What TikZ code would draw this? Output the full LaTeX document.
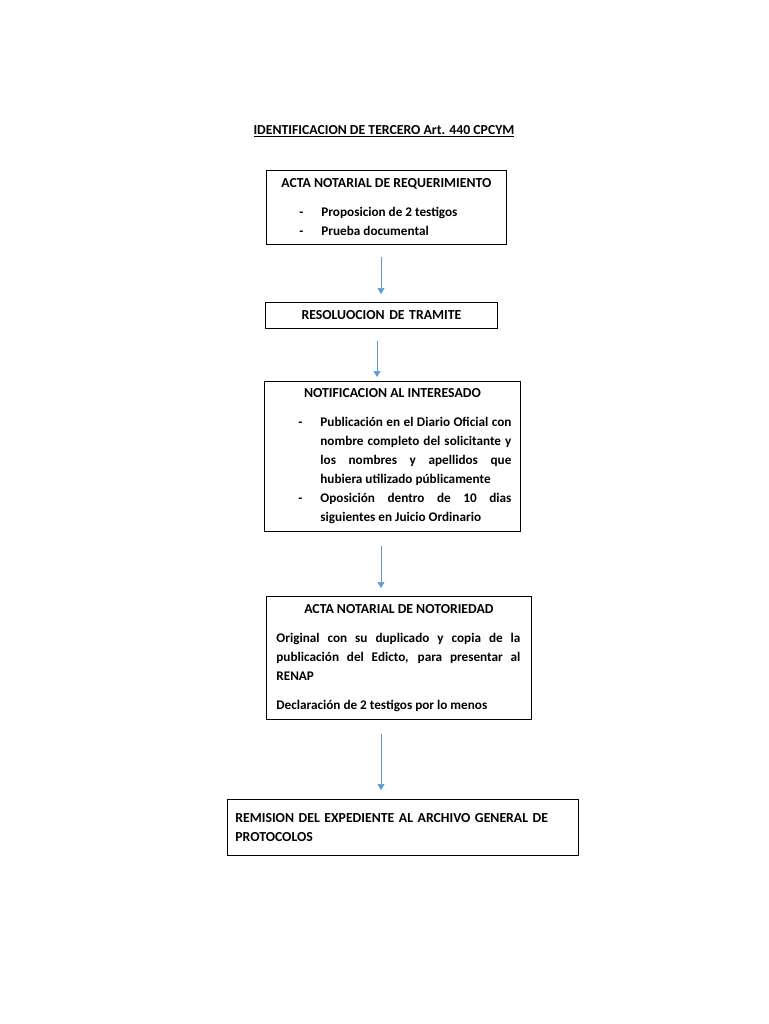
\documentclass[tikz,border=0pt]{standalone}
\usepackage{fontspec}
\setmainfont{Carlito}
\usetikzlibrary{arrows.meta}
\definecolor{flowblue}{HTML}{5B9BD5}
\newcommand{\bul}{\noindent\llap{\makebox[22pt][l]{-}}}
\newcommand{\bodysize}{\fontsize{13.2}{19}\selectfont}
\begin{document}
\begin{tikzpicture}[x=1pt,y=-1pt,
    every node/.style={font=\fontsize{13.75}{19}\selectfont\bfseries},
    stepbox/.style={draw=black,line width=0.8pt,anchor=north west,inner xsep=0pt,inner ysep=0pt,align=justify},
    flow/.style={draw=flowblue,line width=0.6pt,-{Triangle[width=7pt,length=6pt]}}]
    \useasboundingbox (0,0) rectangle (768,1024);
    \coordinate (axis) at (381,0);
    \node (title) at (384,131) {\underline{IDENTIFICACION DE TERCERO Art. 440 CPCYM}};
    \node [stepbox,text width=240pt,minimum height=74pt] (req) at (266,170)
      {{\centering ACTA NOTARIAL DE REQUERIMIENTO\par}\vspace{10pt}
       \bodysize\leftskip=55pt\rightskip=0pt plus 1fil
       \bul Proposicion de 2 testigos\par
       \bul Prueba documental\par};
    \node [stepbox,text width=232pt,minimum height=26pt,align=center] (res) at (265,302)
      {RESOLUOCION DE TRAMITE};
    \node [stepbox,text width=256pt,minimum height=150pt] (noti) at (264,381)
      {{\centering NOTIFICACION AL INTERESADO\par}\vspace{10pt}
       \bodysize\leftskip=56pt\rightskip=9pt\hyphenpenalty=10000
       \bul Publicación en el Diario Oficial con\linebreak nombre completo del solicitante y\linebreak los nombres y apellidos que\linebreak hubiera utilizado públicamente\par
       \bul Oposición dentro de 10 dias\linebreak siguientes en Juicio Ordinario\par};
    \node [stepbox,text width=265pt,minimum height=123pt] (noto) at (266,596)
      {{\centering ACTA NOTARIAL DE NOTORIEDAD\par}\vspace{10pt}
       \bodysize\leftskip=10pt\rightskip=11pt\hyphenpenalty=10000\noindent
       Original con su duplicado y copia de la\linebreak publicación del Edicto, para presentar al\linebreak RENAP\par\vspace{10pt}
       \noindent Declaración de 2 testigos por lo menos\par};
    \node [stepbox,text width=351pt,minimum height=56pt,align=left] (rem) at (227,799)
      {\leftskip=8pt\rightskip=0pt plus 1fil\noindent
       REMISION DEL EXPEDIENTE AL ARCHIVO GENERAL DE\\PROTOCOLOS\par\vspace{7pt}};
    \draw [flow,shorten <=12pt,shorten >=8pt] (req.south -| axis) -- (res.north -| axis);
    \draw [flow,shorten <=12pt,shorten >=4pt] ([xshift=-4pt]res.south -| axis) -- ([xshift=-4pt]noti.north -| axis);
    \draw [flow,shorten <=14pt,shorten >=8pt] (noti.south -| axis) -- (noto.north -| axis);
    \draw [flow,shorten <=14pt,shorten >=9pt] (noto.south -| axis) -- (rem.north -| axis);
\end{tikzpicture}
\end{document}
